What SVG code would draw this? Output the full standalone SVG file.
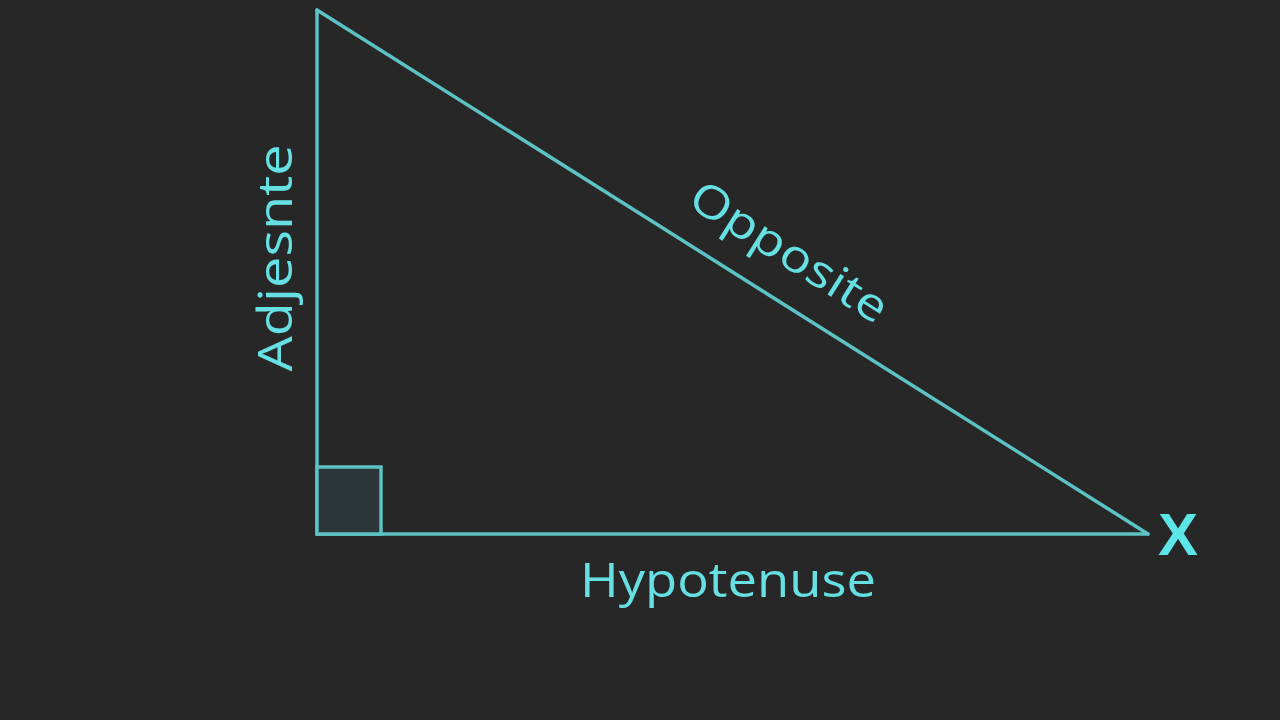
<svg xmlns="http://www.w3.org/2000/svg" width="1280" height="720" viewBox="0 0 1280 720">
  <style>
    .edge { stroke: #5cc2c4; stroke-width: 3.5; fill: none; stroke-linejoin: round; stroke-linecap: round; }
    .lbl { fill: #66e0e2; font-family: "Open Sans", "Liberation Sans", sans-serif; font-weight: 400; }
    .vtx { fill: #5ce6e8; font-family: "Liberation Sans", "DejaVu Sans", sans-serif; font-weight: bold; }
  </style>
  <rect x="0" y="0" width="1280" height="720" fill="#272727"/>
  <g id="connectors">
    <line class="edge" x1="317" y1="10" x2="317" y2="534"/>
    <line class="edge" x1="317" y1="534" x2="1148" y2="534"/>
    <line class="edge" x1="317" y1="10" x2="1148" y2="534"/>
  </g>
  <g id="right-angle">
    <rect x="317" y="467" width="64" height="67" fill="#2a3637" stroke="#5cc2c4" stroke-width="3.5"/>
  </g>
  <g id="label-adjacent">
    <text class="lbl" font-size="48" text-anchor="middle" textLength="227" lengthAdjust="spacingAndGlyphs" transform="translate(292,258) rotate(-90)">Adjesnte</text>
  </g>
  <g id="label-opposite">
    <text class="lbl" font-size="45" text-anchor="middle" textLength="225" lengthAdjust="spacingAndGlyphs" transform="translate(781,265) rotate(32.2)">Opposite</text>
  </g>
  <g id="label-hypotenuse">
    <text class="lbl" font-size="47" x="728" y="597" text-anchor="middle" textLength="296" lengthAdjust="spacingAndGlyphs">Hypotenuse</text>
  </g>
  <g id="vertex-x">
    <text class="vtx" font-size="60" x="1178" y="555" text-anchor="middle">X</text>
  </g>
</svg>
